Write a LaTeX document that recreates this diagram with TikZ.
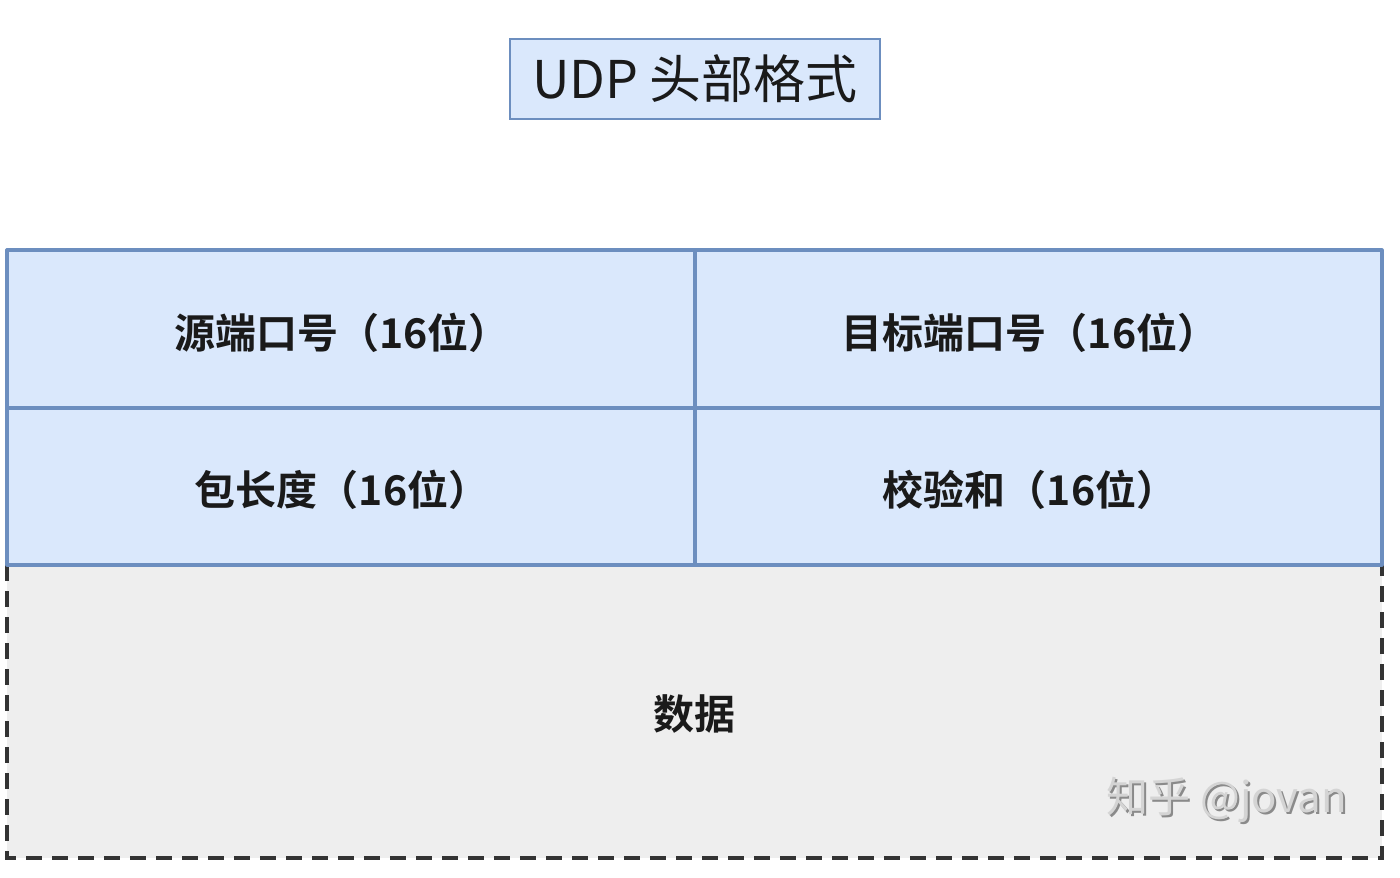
\documentclass[tikz,border=0pt]{standalone}
\usepackage{fontspec}
\newfontfamily\cjk{Noto Sans CJK SC}
\newfontfamily\cjkb{Noto Sans CJK SC Bold}
\definecolor{cellfill}{HTML}{DAE8FC}
\definecolor{celldraw}{HTML}{6C8EBF}
\definecolor{datafill}{HTML}{EEEEEE}
\definecolor{datadraw}{HTML}{333333}
\definecolor{txt}{HTML}{1A1A1A}
\definecolor{wm}{HTML}{D4D4D4}
\definecolor{wmshadow}{HTML}{8A8A8A}
\tikzset{
  cell/.style={fill=cellfill, draw=celldraw, line width=3.2pt, line join=round},
  celltext/.style={font=\cjkb\fontsize{41}{48}\selectfont, text=txt, inner sep=0pt},
}
\begin{document}
\begin{tikzpicture}[x=1pt,y=-1pt]
\useasboundingbox (0,0) rectangle (1400,878);
\fill[white] (0,0) rectangle (1400,878);
% title
\node[draw=celldraw, fill=cellfill, line width=1.5pt, minimum width=370pt, minimum height=80pt, inner sep=0pt,
  font=\cjk\fontsize{52}{60}\selectfont, text=txt] (title) at (695,79) {UDP 头部格式};
% data box
\draw[fill=datafill, draw=datadraw, line width=3.2pt, dash pattern=on 16pt off 10pt] (7,565) rectangle (1382,858);
\coordinate (dataC) at (694,714);
\node[celltext] (data) at (dataC) {数据};
% cells
\draw[cell] (7,250) rectangle (695,408);
\draw[cell] (695,250) rectangle (1382,408);
\draw[cell] (7,408) rectangle (695,565);
\draw[cell] (695,408) rectangle (1382,565);
\node[celltext] (src) at (342,333) {源端口号（16位）};
\node[celltext] (dst) at (1030,333) {目标端口号（16位）};
\node[celltext] (len) at (342,490) {包长度（16位）};
\node[celltext] (chk) at (1030,490) {校验和（16位）};
% watermark
\node[font=\cjk\fontsize{42}{48}\selectfont, text=wmshadow, inner sep=0pt] (wms) at (1229,802) {知乎 @jovan};
\node[font=\cjk\fontsize{42}{48}\selectfont, text=wm, inner sep=0pt] (wmk) at (1227,800) {知乎 @jovan};
\end{tikzpicture}
\end{document}
